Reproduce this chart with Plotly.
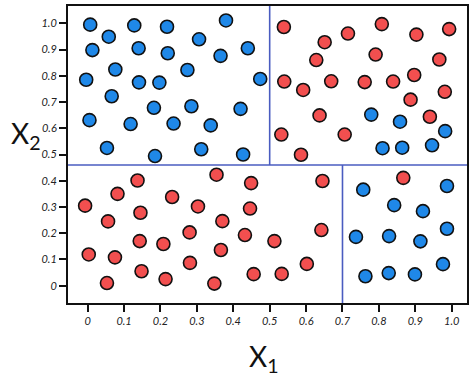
import plotly.graph_objects as go

# Blue class points
blue_x = [0.007, 0.128, 0.218, 0.380, 0.058, 0.306, 0.013, 0.140, 0.220, 0.365, 0.440,
          0.076, 0.274, -0.004, 0.141, 0.197, 0.474, 0.066, 0.182, 0.285, 0.420, 0.005,
          0.118, 0.236, 0.338, 0.053, 0.185, 0.312, 0.427,
          0.779, 0.858, 0.982, 0.810, 0.864, 0.946,
          0.757, 0.987, 0.842, 0.921, 0.737, 0.828, 0.914, 0.987, 0.763, 0.827, 0.899, 0.976]
blue_y = [0.995, 0.992, 0.987, 1.011, 0.949, 0.939, 0.898, 0.905, 0.886, 0.876, 0.905,
          0.824, 0.822, 0.785, 0.775, 0.774, 0.788, 0.722, 0.678, 0.684, 0.674, 0.631,
          0.616, 0.618, 0.611, 0.525, 0.494, 0.520, 0.500,
          0.652, 0.625, 0.589, 0.524, 0.526, 0.535,
          0.366, 0.380, 0.307, 0.284, 0.186, 0.189, 0.169, 0.217, 0.036, 0.048, 0.043, 0.082]

# Red class points
red_x = [0.539, 0.651, 0.715, 0.808, 0.903, 0.993, 0.628, 0.791, 0.966, 0.540, 0.592,
         0.669, 0.761, 0.839, 0.897, 0.981, 0.887, 0.637, 0.940, 0.532, 0.706, 0.586,
         0.137, 0.354, 0.449, 0.645, 0.082, 0.232, -0.007, 0.303, 0.446, 0.056, 0.145,
         0.370, 0.280, 0.432, 0.642, 0.143, 0.208, 0.513, 0.003, 0.075, 0.366, 0.281,
         0.602, 0.148, 0.456, 0.533, 0.053, 0.214, 0.348,
         0.867]
red_y = [0.986, 0.928, 0.961, 0.997, 0.957, 0.978, 0.860, 0.881, 0.862, 0.778, 0.746,
         0.779, 0.776, 0.778, 0.803, 0.739, 0.709, 0.649, 0.644, 0.576, 0.576, 0.499,
         0.401, 0.423, 0.391, 0.399, 0.350, 0.338, 0.305, 0.302, 0.294, 0.245, 0.278,
         0.246, 0.203, 0.193, 0.212, 0.170, 0.159, 0.170, 0.119, 0.108, 0.136, 0.087,
         0.083, 0.055, 0.044, 0.045, 0.010, 0.025, 0.008,
         0.411]

# Split thresholds
split_x2 = 0.46     # horizontal split on X2
split_x1_top = 0.5  # vertical split in the upper region
split_x1_bot = 0.7  # vertical split in the lower region

tick_vals = [0, 0.1, 0.2, 0.3, 0.4, 0.5, 0.6, 0.7, 0.8, 0.9, 1.0]
tick_text = ["0", "0.1", "0.2", "0.3", "0.4", "0.5", "0.6", "0.7", "0.8", "0.9", "1.0"]

x_range = [-0.054, 1.042]
y_range = [-0.066, 1.066]

line_col = "#4a5cc0"
font_fam = "Lato, DejaVu Sans, sans-serif"

fig = go.Figure()
fig.add_trace(go.Scatter(x=blue_x, y=blue_y, mode="markers",
                         marker=dict(size=13, color="#1f88e8", line=dict(color="#111", width=1.6)),
                         showlegend=False, hoverinfo="skip"))
fig.add_trace(go.Scatter(x=red_x, y=red_y, mode="markers",
                         marker=dict(size=13, color="#f24f4f", line=dict(color="#111", width=1.6)),
                         showlegend=False, hoverinfo="skip"))

fig.add_shape(type="line", xref="x", yref="y", x0=x_range[0], x1=x_range[1],
              y0=split_x2, y1=split_x2, line=dict(color=line_col, width=1.6))
fig.add_shape(type="line", xref="x", yref="y", x0=split_x1_top, x1=split_x1_top,
              y0=split_x2, y1=y_range[1], line=dict(color=line_col, width=1.6))
fig.add_shape(type="line", xref="x", yref="y", x0=split_x1_bot, x1=split_x1_bot,
              y0=y_range[0], y1=split_x2, line=dict(color=line_col, width=1.6))

axis_common = dict(showgrid=False, zeroline=False, showline=True, linecolor="#111",
                   linewidth=2, mirror=True, ticks="outside", ticklen=7, tickwidth=1.6,
                   tickcolor="#111", tickvals=tick_vals, ticktext=tick_text,
                   tickfont=dict(family=font_fam, size=11, color="#222", style="italic"))

fig.update_xaxes(range=x_range, **axis_common)
fig.update_yaxes(range=y_range, **axis_common)

fig.add_annotation(text="X<sub>1</sub>", xref="paper", yref="paper", x=0.49, y=-0.115,
                   yanchor="top", xanchor="center", showarrow=False,
                   font=dict(family=font_fam, size=28, color="#111"))
fig.add_annotation(text="X<sub>2</sub>", xref="paper", yref="paper", x=-0.105, y=0.565,
                   yanchor="middle", xanchor="center", showarrow=False,
                   font=dict(family=font_fam, size=28, color="#111"))

fig.update_layout(width=474, height=382, margin=dict(l=68, r=7, t=4, b=79),
                  plot_bgcolor="white", paper_bgcolor="white")

fig.write_html("out.html", config={"displayModeBar": False},
               post_script="document.body.style.margin='0';document.body.style.overflow='hidden';")
